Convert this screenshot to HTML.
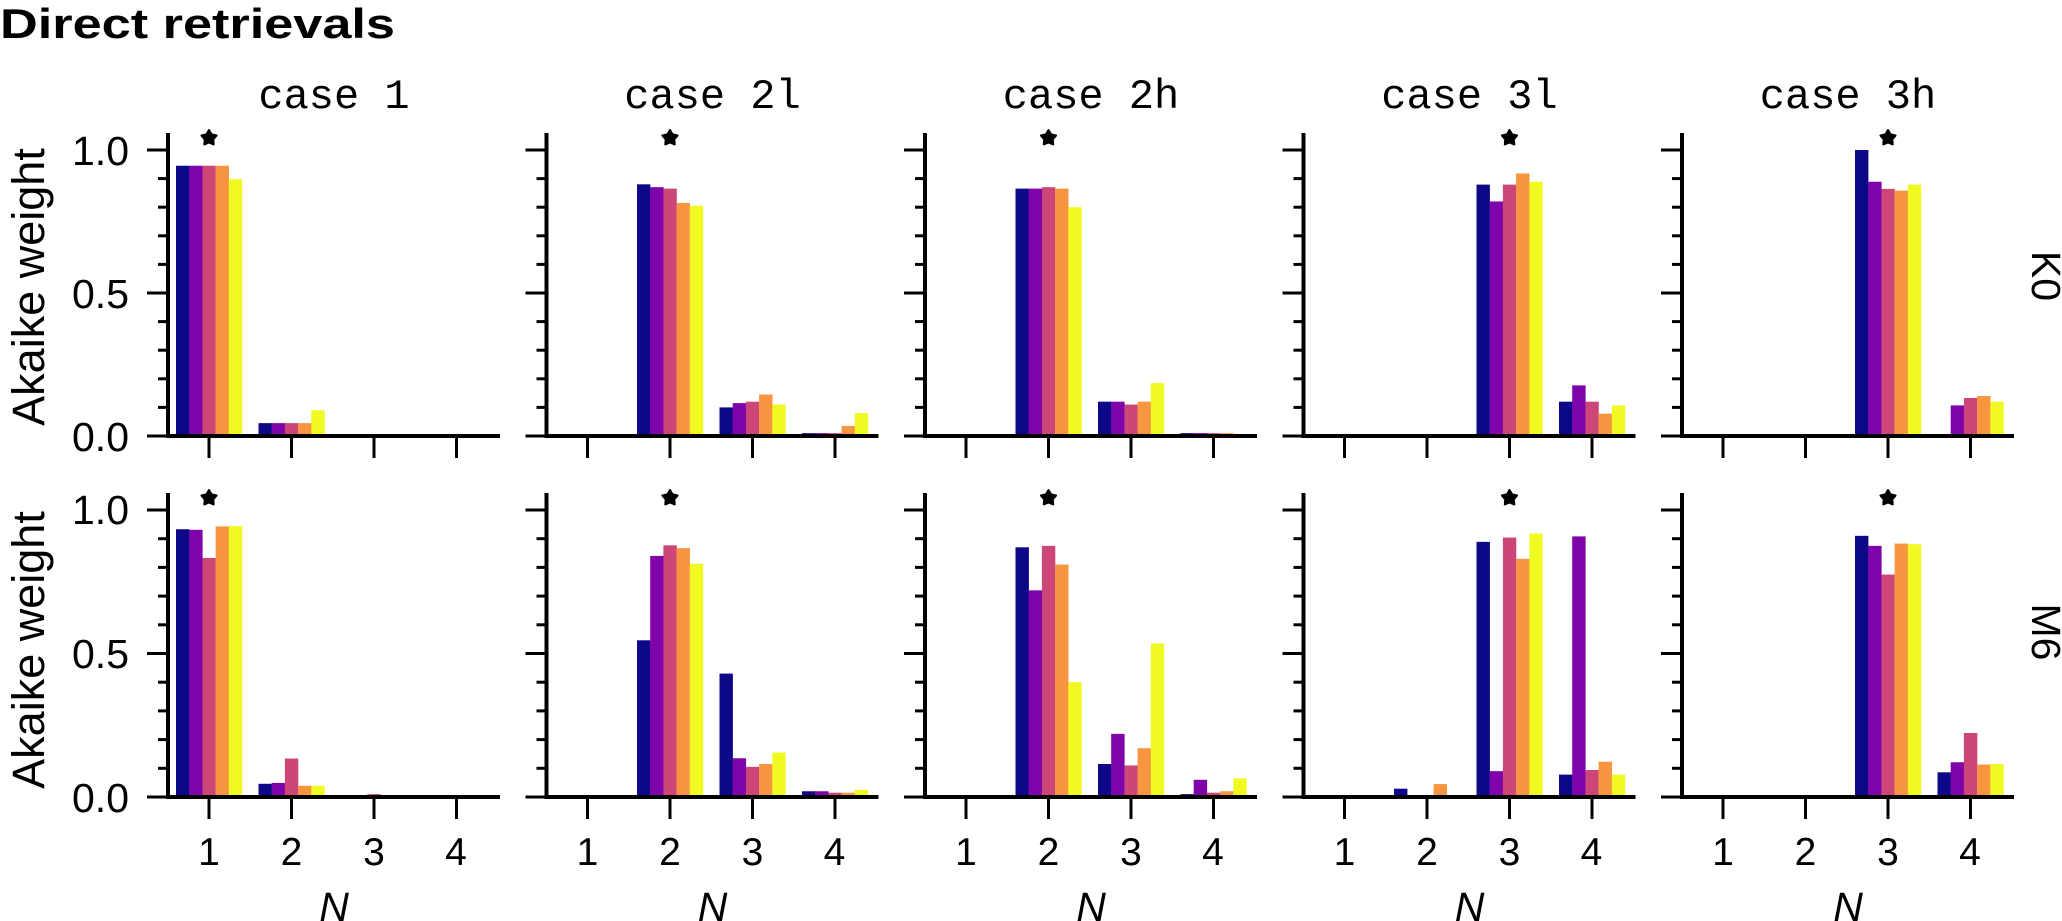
<!DOCTYPE html>
<html><head><meta charset="utf-8"><style>
html,body{margin:0;padding:0;background:#fff;}
svg{display:block;}
text{font-family:"Liberation Sans",sans-serif;fill:#000;}
.mono{font-family:"Liberation Mono",monospace;}
</style></head><body>
<svg id="s" width="2062" height="921" viewBox="0 0 2062 921" xmlns="http://www.w3.org/2000/svg">
<text x="0" y="38" font-size="42" font-weight="bold" textLength="395" lengthAdjust="spacingAndGlyphs">Direct retrievals</text>
<text class="mono" x="334" y="108" font-size="42" text-anchor="middle">case 1</text>
<text class="mono" x="712.5" y="108" font-size="42" text-anchor="middle">case 2l</text>
<text class="mono" x="1091" y="108" font-size="42" text-anchor="middle">case 2h</text>
<text class="mono" x="1469.5" y="108" font-size="42" text-anchor="middle">case 3l</text>
<text class="mono" x="1848" y="108" font-size="42" text-anchor="middle">case 3h</text>
<text x="129" y="165" font-size="41" text-anchor="end">1.0</text>
<text x="129" y="308" font-size="41" text-anchor="end">0.5</text>
<text x="129" y="451" font-size="41" text-anchor="end">0.0</text>
<text x="129" y="524" font-size="41" text-anchor="end">1.0</text>
<text x="129" y="668" font-size="41" text-anchor="end">0.5</text>
<text x="129" y="812" font-size="41" text-anchor="end">0.0</text>
<text font-size="45" text-anchor="middle" transform="translate(44,287) rotate(-90)">Akaike weight</text>
<text font-size="45" text-anchor="middle" transform="translate(44,650) rotate(-90)">Akaike weight</text>
<text font-size="41" text-anchor="middle" transform="translate(2032,276) rotate(90)">K0</text>
<text font-size="41" text-anchor="middle" transform="translate(2032,632) rotate(90)">M6</text>
<g id="xl" font-size="39" text-anchor="middle">
<text x="209" y="865">1</text><text x="291.5" y="865">2</text><text x="374" y="865">3</text><text x="456" y="865">4</text>
<text x="587.5" y="865">1</text><text x="670" y="865">2</text><text x="752.5" y="865">3</text><text x="834.5" y="865">4</text>
<text x="966" y="865">1</text><text x="1048.5" y="865">2</text><text x="1131" y="865">3</text><text x="1213" y="865">4</text>
<text x="1344.5" y="865">1</text><text x="1427" y="865">2</text><text x="1509.5" y="865">3</text><text x="1591.5" y="865">4</text>
<text x="1723" y="865">1</text><text x="1805.5" y="865">2</text><text x="1888" y="865">3</text><text x="1970" y="865">4</text>
</g>
<g font-size="41" font-style="italic" text-anchor="middle">
<text x="334" y="921">N</text><text x="712.5" y="921">N</text><text x="1091" y="921">N</text><text x="1469.5" y="921">N</text><text x="1848" y="921">N</text>
</g>
<g id="g"></g>
</svg>
<script>
var C=["#0d0887","#7e03a8","#cc4778","#f89540","#f0f921"];
var D=[
[[[.945,.945,.945,.945,.898],[.045,.045,.045,.045,.09],[0,0,0,0,0],[0,0,0,0,0]],
 [[0,0,0,0,0],[.88,.87,.865,.815,.805],[.10,.115,.12,.145,.11],[.01,.01,.01,.035,.08]],
 [[0,0,0,0,0],[.865,.865,.87,.865,.80],[.12,.12,.11,.12,.185],[.01,.01,.01,.01,.005]],
 [[0,0,0,0,0],[0,0,0,0,0],[.879,.82,.879,.918,.889],[.12,.177,.12,.078,.107]],
 [[0,0,0,0,0],[0,0,0,0,0],[1,.889,.864,.858,.879],[0,.107,.133,.14,.12]]],
[[[.933,.931,.833,.943,.944],[.046,.049,.134,.039,.039],[.002,0,.01,0,0],[0,0,0,0,0]],
 [[0,0,0,0,0],[.546,.84,.877,.867,.813],[.43,.135,.105,.115,.155],[.02,.02,.015,.015,.025]],
 [[0,0,0,0,0],[.87,.72,.875,.81,.40],[.115,.22,.11,.17,.535],[.01,.06,.015,.02,.065]],
 [[0,0,0,0,0],[.029,0,0,.045,0],[.889,.09,.904,.83,.918],[.078,.908,.094,.123,.078]],
 [[0,0,0,0,0],[0,0,0,0,0],[.91,.875,.775,.883,.881],[.086,.121,.223,.113,.115]]]];
var best=[[0,1,1,2,2],[0,1,1,2,2]];
var Y0=[436,797],U=[286,287],TOP=[133,493];
var h="";
for(var r=0;r<2;r++)for(var p=0;p<5;p++){
 var sx=168+p*378.5,y0=Y0[r],u=U[r];
 for(var n=0;n<4;n++){var cx=sx+41+n*82.5;
  for(var b=0;b<5;b++){var v=D[r][p][n][b];if(v<=0)continue;var hh=v*u;
   h+='<rect x="'+(cx-33+b*13.2)+'" y="'+(y0-hh)+'" width="13.4" height="'+hh+'" fill="'+C[b]+'"/>';}
  h+='<line x1="'+cx+'" y1="'+y0+'" x2="'+cx+'" y2="'+(y0+22)+'" stroke="#000" stroke-width="3"/>';
 }
 for(var k=0;k<=10;k++){var ty=y0-k*0.1*u;var L=(k%5==0)?21:10;
  h+='<line x1="'+(sx-L)+'" y1="'+ty+'" x2="'+sx+'" y2="'+ty+'" stroke="#000" stroke-width="3"/>';}
 h+='<line x1="'+sx+'" y1="'+TOP[r]+'" x2="'+sx+'" y2="'+(y0+2)+'" stroke="#000" stroke-width="4"/>';
 h+='<line x1="'+(sx-2)+'" y1="'+y0+'" x2="'+(sx+332)+'" y2="'+y0+'" stroke="#000" stroke-width="4"/>';
 var stx=sx+41+best[r][p]*82.5,sty=TOP[r]+5;
 var pts="";for(var i=0;i<10;i++){var a=-Math.PI/2+i*Math.PI/5;var rr=(i%2)?4.5:8;pts+=(stx+rr*Math.cos(a)).toFixed(1)+","+(sty+rr*Math.sin(a)).toFixed(1)+" ";}
 h+='<polygon points="'+pts+'" fill="#000" stroke="#000" stroke-width="2" stroke-linejoin="round"/>';
}
document.getElementById("g").innerHTML=h;
</script>
</body></html>
